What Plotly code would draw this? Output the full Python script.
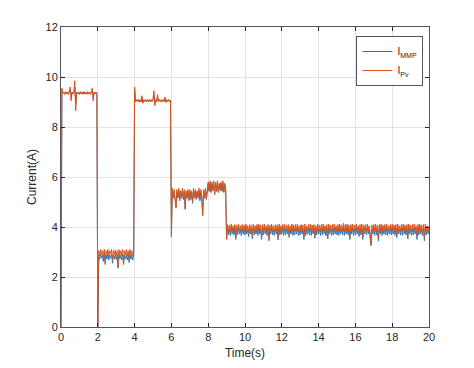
import numpy as np
import plotly.graph_objects as go

# sample times (s), 0.05 s step, 0..20 s
time_s = np.round(np.arange(0, 401) * 0.05, 2)

# I_Pv (orange) values, one row per second
ipv_0_2 = [0.00, 9.55, 9.35, 9.40, 9.30, 9.42, 9.32, 9.40, 9.30, 9.42, 9.60, 9.05, 9.40, 9.32, 9.40, 9.85, 8.65, 9.40, 9.32, 9.40,
           9.30, 9.42, 9.32, 9.40, 9.30, 9.42, 9.32, 9.40, 9.30, 9.42, 9.32, 9.40, 9.30, 9.42, 9.55, 9.05, 9.40, 9.32, 9.40, 9.35]
ipv_2_4 = [0.00, 3.05, 2.85, 3.10, 2.90, 3.05, 2.80, 3.10, 2.65, 3.05, 2.90, 3.10, 2.85, 3.05, 2.92, 3.10, 2.70, 3.05, 2.90, 3.08,
           2.85, 3.05, 2.40, 3.10, 2.90, 3.05, 2.85, 3.10, 2.60, 3.05, 2.90, 3.10, 2.85, 3.05, 2.70, 3.10, 2.90, 3.05, 2.85, 3.05]
ipv_4_6 = [9.60, 9.00, 9.10, 9.02, 9.10, 9.00, 9.10, 9.00, 9.25, 8.95, 9.10, 9.02, 9.10, 9.00, 9.10, 9.02, 9.10, 9.00, 9.10, 9.02,
           9.10, 9.45, 8.85, 9.10, 9.02, 9.30, 9.00, 9.10, 9.02, 9.10, 9.00, 9.10, 9.02, 9.20, 8.98, 9.10, 9.02, 9.10, 9.00, 9.08]
ipv_6_9 = [3.60, 5.55, 5.20, 5.50, 5.15, 4.75, 5.50, 5.20, 5.55, 5.10, 5.45, 5.20, 5.55, 5.15, 5.50, 4.70, 5.45, 5.20, 5.50, 5.10,
           5.50, 5.15, 5.45, 5.00, 5.55, 5.20, 5.50, 5.15, 5.45, 5.20, 5.55, 5.10, 5.50, 5.20, 4.45, 5.50, 5.20, 5.55, 5.15, 5.50,
           5.80, 5.45, 5.85, 5.40, 5.80, 5.50, 5.85, 5.30, 5.80, 5.45, 5.85, 5.40, 5.75, 5.50, 5.80, 5.45, 5.85, 5.40, 5.75, 5.50]
ipv_9_20 = [3.50, 4.10, 3.82, 4.08, 3.78, 4.12, 3.85, 4.05, 3.80, 4.10, 3.60, 4.08, 3.82, 4.12, 3.85, 4.05, 3.80, 4.10, 3.85, 4.08,
            3.82, 4.12, 3.85, 4.05, 3.78, 4.10, 3.85, 4.08, 3.65, 4.12, 3.82, 4.05, 3.85, 4.10, 3.80, 4.12, 3.85, 4.08, 3.60, 4.10,
            3.82, 4.12, 3.85, 4.05, 3.80, 4.10, 3.55, 4.08, 3.85, 4.12, 3.82, 4.05, 3.80, 4.10, 3.85, 4.08, 3.58, 4.12, 3.82, 4.05,
            3.85, 4.10, 3.80, 4.12, 3.82, 4.08, 3.85, 4.10, 3.70, 4.05, 3.85, 4.12, 3.80, 4.08, 3.82, 4.10, 3.85, 4.12, 3.80, 4.05,
            3.82, 4.10, 3.85, 4.08, 3.60, 4.12, 3.80, 4.05, 3.85, 4.10, 3.82, 4.12, 3.80, 4.08, 3.85, 4.10, 3.65, 4.05, 3.82, 4.12,
            3.85, 4.08, 3.80, 4.10, 3.82, 4.12, 3.85, 4.05, 3.78, 4.10, 3.65, 4.12, 3.85, 4.08, 3.80, 4.10, 3.82, 4.12, 3.85, 4.05,
            3.82, 4.10, 3.80, 4.12, 3.85, 4.08, 3.82, 4.15, 3.80, 4.10, 3.85, 4.12, 3.82, 4.08, 3.62, 4.10, 3.85, 4.12, 3.80, 4.08,
            3.82, 4.12, 3.85, 4.05, 3.75, 4.10, 3.82, 4.12, 3.60, 4.08, 3.85, 4.10, 3.82, 4.12, 3.85, 4.05, 3.80, 3.28, 4.08, 3.85,
            4.10, 3.80, 4.12, 3.82, 4.08, 3.55, 4.10, 3.85, 4.12, 3.80, 4.08, 3.85, 4.10, 3.82, 4.12, 3.80, 4.05, 3.85, 4.10, 3.82,
            4.12, 3.85, 4.08, 3.80, 4.10, 3.70, 4.12, 3.85, 4.05, 3.82, 4.10, 3.80, 4.12, 3.85, 4.08, 3.82, 4.10, 3.65, 4.12, 3.85,
            4.08, 3.80, 4.10, 3.82, 4.12, 3.85, 4.05, 3.62, 4.10, 3.82, 4.12, 3.85, 4.08, 3.80, 4.10, 3.58, 4.12, 3.82, 4.05, 3.85,
            4.05]

# I_MMP (blue) values
immp_0_2 = [0.00, 9.50, 9.35, 9.38, 9.32, 9.40, 9.33, 9.38, 9.32, 9.40, 9.50, 9.20, 9.38, 9.33, 9.38, 9.60, 8.90, 9.38, 9.33, 9.38,
            9.32, 9.40, 9.33, 9.38, 9.32, 9.40, 9.33, 9.38, 9.32, 9.40, 9.33, 9.38, 9.32, 9.40, 9.45, 9.20, 9.38, 9.33, 9.38, 9.35]
immp_2_4 = [0.00, 2.85, 2.70, 2.92, 2.75, 2.88, 2.62, 2.92, 2.50, 2.88, 2.72, 2.92, 2.68, 2.88, 2.75, 2.92, 2.55, 2.88, 2.72, 2.90,
            2.70, 2.88, 2.35, 2.92, 2.72, 2.88, 2.68, 2.92, 2.50, 2.88, 2.72, 2.92, 2.68, 2.88, 2.58, 2.92, 2.72, 2.88, 2.68, 2.88]
immp_4_6 = [9.50, 9.02, 9.08, 9.03, 9.08, 9.02, 9.08, 9.02, 9.18, 8.98, 9.08, 9.03, 9.08, 9.02, 9.08, 9.03, 9.08, 9.02, 9.08, 9.03,
            9.08, 9.30, 8.95, 9.08, 9.03, 9.20, 9.02, 9.08, 9.03, 9.08, 9.02, 9.08, 9.03, 9.15, 9.00, 9.08, 9.03, 9.08, 9.02, 9.06]
immp_6_9 = [3.70, 5.45, 5.15, 5.42, 5.10, 4.80, 5.42, 5.15, 5.45, 5.05, 5.40, 5.15, 5.45, 5.10, 5.42, 4.75, 5.40, 5.15, 5.42, 5.05,
            5.42, 5.10, 5.40, 4.95, 5.45, 5.15, 5.42, 5.10, 5.40, 5.15, 5.45, 5.05, 5.42, 5.15, 4.50, 5.42, 5.15, 5.45, 5.10, 5.42,
            5.72, 5.42, 5.75, 5.38, 5.72, 5.45, 5.75, 5.30, 5.72, 5.42, 5.75, 5.38, 5.70, 5.45, 5.72, 5.42, 5.75, 5.38, 5.70, 5.45]
immp_9_20 = [3.55, 3.95, 3.70, 3.92, 3.66, 3.98, 3.72, 3.90, 3.68, 3.95, 3.50, 3.92, 3.70, 3.98, 3.72, 3.90, 3.66, 3.95, 3.72, 3.92,
             3.68, 3.98, 3.72, 3.90, 3.62, 3.95, 3.72, 3.92, 3.52, 3.98, 3.68, 3.90, 3.72, 3.95, 3.66, 3.98, 3.72, 3.92, 3.50, 3.95,
             3.68, 3.98, 3.72, 3.90, 3.66, 3.95, 3.45, 3.92, 3.72, 3.98, 3.68, 3.90, 3.66, 3.95, 3.72, 3.92, 3.48, 3.98, 3.68, 3.90,
             3.72, 3.95, 3.66, 3.98, 3.68, 3.92, 3.72, 3.95, 3.58, 3.90, 3.72, 3.98, 3.66, 3.92, 3.68, 3.95, 3.72, 3.98, 3.66, 3.90,
             3.68, 3.95, 3.72, 3.92, 3.50, 3.98, 3.66, 3.90, 3.72, 3.95, 3.68, 3.98, 3.66, 3.92, 3.72, 3.95, 3.55, 3.90, 3.68, 3.98,
             3.72, 3.92, 3.66, 3.95, 3.68, 3.98, 3.72, 3.90, 3.64, 3.95, 3.52, 3.98, 3.72, 3.92, 3.66, 3.95, 3.68, 3.98, 3.72, 3.90,
             3.68, 3.95, 3.66, 3.98, 3.72, 3.92, 3.68, 4.00, 3.66, 3.95, 3.72, 3.98, 3.68, 3.92, 3.50, 3.95, 3.72, 3.98, 3.66, 3.92,
             3.68, 3.98, 3.72, 3.90, 3.62, 3.95, 3.68, 3.98, 3.50, 3.92, 3.72, 3.95, 3.68, 3.98, 3.72, 3.90, 3.66, 3.25, 3.92, 3.72,
             3.95, 3.66, 3.98, 3.68, 3.92, 3.45, 3.95, 3.72, 3.98, 3.66, 3.92, 3.72, 3.95, 3.68, 3.98, 3.66, 3.90, 3.72, 3.95, 3.68,
             3.98, 3.72, 3.92, 3.66, 3.95, 3.58, 3.98, 3.72, 3.90, 3.68, 3.95, 3.66, 3.98, 3.72, 3.92, 3.68, 3.95, 3.52, 3.98, 3.72,
             3.92, 3.66, 3.95, 3.68, 3.98, 3.72, 3.90, 3.50, 3.95, 3.68, 3.98, 3.72, 3.92, 3.66, 3.95, 3.45, 3.98, 3.68, 3.90, 3.72,
             3.90]

ipv = ipv_0_2 + ipv_2_4 + ipv_4_6 + ipv_6_9 + ipv_9_20
immp = immp_0_2 + immp_2_4 + immp_4_6 + immp_6_9 + immp_9_20

x_ticks = [0, 2, 4, 6, 8, 10, 12, 14, 16, 18, 20]
y_ticks = [0, 2, 4, 6, 8, 10, 12]

BLUE = "#2b7bbb"
ORANGE = "#D95319"
AX = "#262626"
LINE = "#555555"
FONT = "Liberation Sans, Arial, sans-serif"

fig = go.Figure()
fig.add_trace(go.Scatter(x=time_s, y=immp, mode="lines", name="I<sub>MMP</sub>",
                         line=dict(color=BLUE, width=1)))
fig.add_trace(go.Scatter(x=time_s, y=ipv, mode="lines", name="I<sub>Pv</sub>",
                         line=dict(color=ORANGE, width=1)))

axis_common = dict(showline=True, linecolor=LINE, linewidth=1, mirror="ticks",
                   ticks="inside", ticklen=4, tickcolor=AX, tickwidth=1,
                   showgrid=True, gridcolor="#e3e3e3", gridwidth=1,
                   zeroline=False, automargin=False,
                   tickfont=dict(family=FONT, size=11, color=AX))

fig.update_xaxes(range=[0, 20], tickvals=x_ticks,
                 title=dict(text="Time(s)", font=dict(family=FONT, size=12, color=AX), standoff=6),
                 **axis_common)
fig.update_yaxes(range=[0, 12], tickvals=y_ticks,
                 title=dict(text="Current(A)", font=dict(family=FONT, size=12, color=AX), standoff=6),
                 **axis_common)

# page body has an 8px margin, so the figure is sized/margined to land the
# plot area where the reference has it
fig.update_layout(
    width=466, height=360,
    margin=dict(l=53, r=45, t=19, b=41),
    plot_bgcolor="white", paper_bgcolor="white",
    font=dict(family=FONT, color=AX),
    showlegend=True,
    legend=dict(x=0.985, y=0.97, xanchor="right", yanchor="top",
                bgcolor="white", bordercolor=LINE, borderwidth=1,
                font=dict(family=FONT, size=10, color=AX),
                tracegroupgap=0, itemwidth=30),
)

fig.write_html("out.html")
